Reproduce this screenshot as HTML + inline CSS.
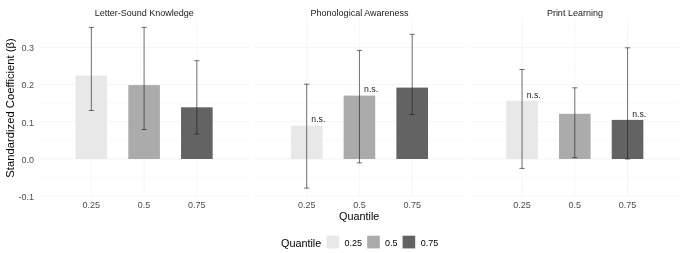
<!DOCTYPE html>
<html><head><meta charset="utf-8"><title>Quantile coefficients</title>
<style>html,body{margin:0;padding:0;background:#fff}svg{display:block}text{font-family:"Liberation Sans",Arial,sans-serif}</style></head><body>
<svg width="685" height="253" viewBox="0 0 685 253">
<rect width="685" height="253" fill="#fff"/>
<line x1="39.25" x2="249.15" y1="177.60" y2="177.60" stroke="#EFEFEF" stroke-width="0.3"/>
<line x1="39.25" x2="249.15" y1="140.40" y2="140.40" stroke="#EFEFEF" stroke-width="0.3"/>
<line x1="39.25" x2="249.15" y1="103.20" y2="103.20" stroke="#EFEFEF" stroke-width="0.3"/>
<line x1="39.25" x2="249.15" y1="66.00" y2="66.00" stroke="#EFEFEF" stroke-width="0.3"/>
<line x1="39.25" x2="249.15" y1="28.80" y2="28.80" stroke="#EFEFEF" stroke-width="0.3"/>
<line x1="39.25" x2="249.15" y1="196.20" y2="196.20" stroke="#EBEBEB" stroke-width="0.52"/>
<line x1="39.25" x2="249.15" y1="159.00" y2="159.00" stroke="#EBEBEB" stroke-width="0.52"/>
<line x1="39.25" x2="249.15" y1="121.80" y2="121.80" stroke="#EBEBEB" stroke-width="0.52"/>
<line x1="39.25" x2="249.15" y1="84.60" y2="84.60" stroke="#EBEBEB" stroke-width="0.52"/>
<line x1="39.25" x2="249.15" y1="47.40" y2="47.40" stroke="#EBEBEB" stroke-width="0.52"/>
<line x1="91.35" x2="91.35" y1="18.0" y2="196.2" stroke="#EBEBEB" stroke-width="0.42"/>
<line x1="144.10" x2="144.10" y1="18.0" y2="196.2" stroke="#EBEBEB" stroke-width="0.42"/>
<line x1="196.85" x2="196.85" y1="18.0" y2="196.2" stroke="#EBEBEB" stroke-width="0.42"/>
<rect x="75.55" y="75.60" width="31.6" height="83.40" fill="#E8E8E8"/>
<rect x="128.30" y="85.10" width="31.6" height="73.90" fill="#ABABAB"/>
<rect x="181.05" y="107.30" width="31.6" height="51.70" fill="#636363"/>
<path d="M88.75 27.40H93.95M91.35 27.40V110.50M88.75 110.50H93.95" stroke="#1c1c1c" stroke-width="0.62" fill="none"/>
<path d="M141.50 27.40H146.70M144.10 27.40V129.50M141.50 129.50H146.70" stroke="#1c1c1c" stroke-width="0.62" fill="none"/>
<path d="M194.25 60.70H199.45M196.85 60.70V133.90M194.25 133.90H199.45" stroke="#1c1c1c" stroke-width="0.62" fill="none"/>
<text x="144.20" y="15.5" font-size="9.0" fill="#1a1a1a" text-anchor="middle">Letter-Sound Knowledge</text>
<text x="91.35" y="207.7" font-size="9.0" fill="#4d4d4d" text-anchor="middle">0.25</text>
<text x="144.10" y="207.7" font-size="9.0" fill="#4d4d4d" text-anchor="middle">0.5</text>
<text x="196.85" y="207.7" font-size="9.0" fill="#4d4d4d" text-anchor="middle">0.75</text>
<line x1="254.60" x2="464.50" y1="177.60" y2="177.60" stroke="#EFEFEF" stroke-width="0.3"/>
<line x1="254.60" x2="464.50" y1="140.40" y2="140.40" stroke="#EFEFEF" stroke-width="0.3"/>
<line x1="254.60" x2="464.50" y1="103.20" y2="103.20" stroke="#EFEFEF" stroke-width="0.3"/>
<line x1="254.60" x2="464.50" y1="66.00" y2="66.00" stroke="#EFEFEF" stroke-width="0.3"/>
<line x1="254.60" x2="464.50" y1="28.80" y2="28.80" stroke="#EFEFEF" stroke-width="0.3"/>
<line x1="254.60" x2="464.50" y1="196.20" y2="196.20" stroke="#EBEBEB" stroke-width="0.52"/>
<line x1="254.60" x2="464.50" y1="159.00" y2="159.00" stroke="#EBEBEB" stroke-width="0.52"/>
<line x1="254.60" x2="464.50" y1="121.80" y2="121.80" stroke="#EBEBEB" stroke-width="0.52"/>
<line x1="254.60" x2="464.50" y1="84.60" y2="84.60" stroke="#EBEBEB" stroke-width="0.52"/>
<line x1="254.60" x2="464.50" y1="47.40" y2="47.40" stroke="#EBEBEB" stroke-width="0.52"/>
<line x1="306.70" x2="306.70" y1="18.0" y2="196.2" stroke="#EBEBEB" stroke-width="0.42"/>
<line x1="359.45" x2="359.45" y1="18.0" y2="196.2" stroke="#EBEBEB" stroke-width="0.42"/>
<line x1="412.20" x2="412.20" y1="18.0" y2="196.2" stroke="#EBEBEB" stroke-width="0.42"/>
<rect x="290.90" y="125.60" width="31.6" height="33.40" fill="#E8E8E8"/>
<rect x="343.65" y="95.60" width="31.6" height="63.40" fill="#ABABAB"/>
<rect x="396.40" y="87.60" width="31.6" height="71.40" fill="#636363"/>
<path d="M304.10 84.20H309.30M306.70 84.20V188.10M304.10 188.10H309.30" stroke="#1c1c1c" stroke-width="0.62" fill="none"/>
<text x="311.30" y="122.40" font-size="8.7" fill="#1a1a1a">n.s.</text>
<path d="M356.85 50.40H362.05M359.45 50.40V162.90M356.85 162.90H362.05" stroke="#1c1c1c" stroke-width="0.62" fill="none"/>
<text x="364.05" y="92.40" font-size="8.7" fill="#1a1a1a">n.s.</text>
<path d="M409.60 34.30H414.80M412.20 34.30V114.50M409.60 114.50H414.80" stroke="#1c1c1c" stroke-width="0.62" fill="none"/>
<text x="359.55" y="15.5" font-size="9.0" fill="#1a1a1a" text-anchor="middle">Phonological Awareness</text>
<text x="306.70" y="207.7" font-size="9.0" fill="#4d4d4d" text-anchor="middle">0.25</text>
<text x="359.45" y="207.7" font-size="9.0" fill="#4d4d4d" text-anchor="middle">0.5</text>
<text x="412.20" y="207.7" font-size="9.0" fill="#4d4d4d" text-anchor="middle">0.75</text>
<line x1="469.95" x2="679.85" y1="177.60" y2="177.60" stroke="#EFEFEF" stroke-width="0.3"/>
<line x1="469.95" x2="679.85" y1="140.40" y2="140.40" stroke="#EFEFEF" stroke-width="0.3"/>
<line x1="469.95" x2="679.85" y1="103.20" y2="103.20" stroke="#EFEFEF" stroke-width="0.3"/>
<line x1="469.95" x2="679.85" y1="66.00" y2="66.00" stroke="#EFEFEF" stroke-width="0.3"/>
<line x1="469.95" x2="679.85" y1="28.80" y2="28.80" stroke="#EFEFEF" stroke-width="0.3"/>
<line x1="469.95" x2="679.85" y1="196.20" y2="196.20" stroke="#EBEBEB" stroke-width="0.52"/>
<line x1="469.95" x2="679.85" y1="159.00" y2="159.00" stroke="#EBEBEB" stroke-width="0.52"/>
<line x1="469.95" x2="679.85" y1="121.80" y2="121.80" stroke="#EBEBEB" stroke-width="0.52"/>
<line x1="469.95" x2="679.85" y1="84.60" y2="84.60" stroke="#EBEBEB" stroke-width="0.52"/>
<line x1="469.95" x2="679.85" y1="47.40" y2="47.40" stroke="#EBEBEB" stroke-width="0.52"/>
<line x1="522.05" x2="522.05" y1="18.0" y2="196.2" stroke="#EBEBEB" stroke-width="0.42"/>
<line x1="574.80" x2="574.80" y1="18.0" y2="196.2" stroke="#EBEBEB" stroke-width="0.42"/>
<line x1="627.55" x2="627.55" y1="18.0" y2="196.2" stroke="#EBEBEB" stroke-width="0.42"/>
<rect x="506.25" y="100.80" width="31.6" height="58.20" fill="#E8E8E8"/>
<rect x="559.00" y="113.80" width="31.6" height="45.20" fill="#ABABAB"/>
<rect x="611.75" y="119.90" width="31.6" height="39.10" fill="#636363"/>
<path d="M519.45 69.50H524.65M522.05 69.50V168.40M519.45 168.40H524.65" stroke="#1c1c1c" stroke-width="0.62" fill="none"/>
<text x="526.65" y="97.60" font-size="8.7" fill="#1a1a1a">n.s.</text>
<path d="M572.20 87.80H577.40M574.80 87.80V157.60M572.20 157.60H577.40" stroke="#1c1c1c" stroke-width="0.62" fill="none"/>
<path d="M624.95 47.80H630.15M627.55 47.80V159.00M624.95 159.00H630.15" stroke="#1c1c1c" stroke-width="0.62" fill="none"/>
<text x="632.15" y="116.70" font-size="8.7" fill="#1a1a1a">n.s.</text>
<text x="574.90" y="15.5" font-size="9.0" fill="#1a1a1a" text-anchor="middle">Print Learning</text>
<text x="522.05" y="207.7" font-size="9.0" fill="#4d4d4d" text-anchor="middle">0.25</text>
<text x="574.80" y="207.7" font-size="9.0" fill="#4d4d4d" text-anchor="middle">0.5</text>
<text x="627.55" y="207.7" font-size="9.0" fill="#4d4d4d" text-anchor="middle">0.75</text>
<text x="34.0" y="200.05" font-size="9.0" fill="#4d4d4d" text-anchor="end">-0.1</text>
<text x="34.0" y="162.85" font-size="9.0" fill="#4d4d4d" text-anchor="end">0.0</text>
<text x="34.0" y="125.65" font-size="9.0" fill="#4d4d4d" text-anchor="end">0.1</text>
<text x="34.0" y="88.45" font-size="9.0" fill="#4d4d4d" text-anchor="end">0.2</text>
<text x="34.0" y="51.25" font-size="9.0" fill="#4d4d4d" text-anchor="end">0.3</text>
<text transform="translate(14.15,107.9) rotate(-90)" font-size="11.25" fill="#000" text-anchor="middle">Standardized Coefficient (β)</text>
<text x="359.2" y="219.7" font-size="10.8" fill="#000" text-anchor="middle">Quantile</text>
<text x="281" y="247.0" font-size="10.8" fill="#000">Quantile</text>
<rect x="326.6" y="235.7" width="12.6" height="12.7" fill="#E8E8E8"/>
<text x="344.5" y="246.1" font-size="9.0" fill="#000">0.25</text>
<rect x="367.2" y="235.7" width="12.6" height="12.7" fill="#ABABAB"/>
<text x="385.0" y="246.1" font-size="9.0" fill="#000">0.5</text>
<rect x="402.6" y="235.7" width="12.6" height="12.7" fill="#636363"/>
<text x="420.8" y="246.1" font-size="9.0" fill="#000">0.75</text>
</svg></body></html>
